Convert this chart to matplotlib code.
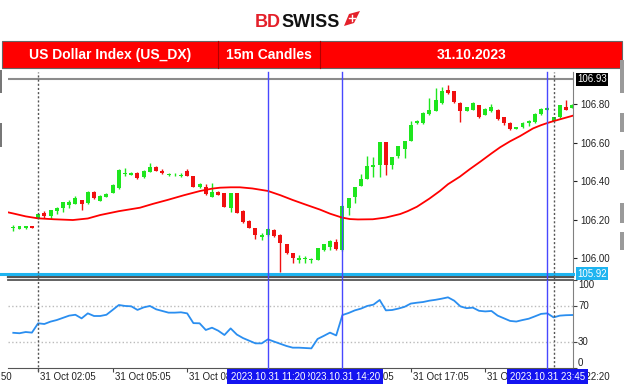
import matplotlib
matplotlib.use("Agg")
import matplotlib.pyplot as plt
import matplotlib.transforms as mtransforms
from matplotlib.patches import Rectangle, Polygon
import numpy as np

plt.rcParams['font.family'] = ['Liberation Sans', 'DejaVu Sans']

# === data (15m candles, US_DX, 31.10.2023) === #
opens = [106.159, 106.152, 106.157, 106.169, 106.208, 106.237, 106.220, 106.246, 106.263, 106.277,
         106.282, 106.303, 106.286, 106.346, 106.300, 106.320, 106.341, 106.364, 106.438, 106.434,
         106.445, 106.421, 106.450, 106.476, 106.453, 106.431, 106.431, 106.428, 106.455, 106.428,
         106.372, 106.369, 106.320, 106.346, 106.338, 106.263, 106.338, 106.246, 106.194, 106.156,
         106.112, 106.121, 106.147, 106.121, 106.074, 106.026, 105.991, 105.995, 105.991, 105.991,
         106.043, 106.060, 106.083, 106.043, 106.260, 106.320, 106.376, 106.412, 106.473, 106.485,
         106.603, 106.486, 106.530, 106.569, 106.611, 106.703, 106.703, 106.750, 106.767, 106.807,
         106.874, 106.868, 106.807, 106.767, 106.772, 106.795, 106.746, 106.764, 106.772, 106.732,
         106.703, 106.673, 106.681, 106.703, 106.706, 106.750, 106.772, 106.715, 106.732, 106.784,
         106.781]
highs = [106.173, 106.170, 106.169, 106.170, 106.232, 106.247, 106.253, 106.265, 106.293, 106.303,
         106.324, 106.305, 106.350, 106.349, 106.327, 106.340, 106.384, 106.462, 106.468, 106.448,
         106.450, 106.457, 106.493, 106.479, 106.462, 106.445, 106.442, 106.442, 106.462, 106.430,
         106.393, 106.384, 106.390, 106.349, 106.341, 106.341, 106.341, 106.249, 106.197, 106.158,
         106.130, 106.155, 106.150, 106.124, 106.077, 106.029, 106.017, 106.012, 106.003, 106.055,
         106.076, 106.094, 106.099, 106.275, 106.315, 106.372, 106.438, 106.531, 106.525, 106.606,
         106.606, 106.528, 106.585, 106.611, 106.715, 106.718, 106.758, 106.833, 106.885, 106.888,
         106.902, 106.871, 106.810, 106.787, 106.810, 106.798, 106.779, 106.802, 106.775, 106.735,
         106.706, 106.684, 106.706, 106.720, 106.753, 106.779, 106.784, 106.735, 106.798, 106.824,
         106.801]
lows = [106.143, 106.151, 106.150, 106.158, 106.204, 106.208, 106.206, 106.230, 106.242, 106.263,
        106.280, 106.251, 106.283, 106.309, 106.297, 106.318, 106.338, 106.360, 106.428, 106.432,
        106.413, 106.419, 106.448, 106.453, 106.440, 106.426, 106.426, 106.424, 106.426, 106.370,
        106.364, 106.330, 106.318, 106.327, 106.266, 106.242, 106.235, 106.184, 106.157, 106.100,
        106.095, 106.118, 106.113, 105.930, 106.021, 105.974, 105.974, 105.977, 105.977, 105.989,
        106.040, 106.043, 106.045, 106.040, 106.225, 106.286, 106.374, 106.410, 106.421, 106.424,
        106.434, 106.464, 106.521, 106.521, 106.608, 106.700, 106.700, 106.747, 106.764, 106.804,
        106.856, 106.807, 106.706, 106.764, 106.769, 106.729, 106.743, 106.761, 106.721, 106.694,
        106.669, 106.670, 106.679, 106.686, 106.704, 106.747, 106.770, 106.712, 106.729, 106.770,
        106.779]
closes = [106.163, 106.169, 106.168, 106.159, 106.230, 106.221, 106.251, 106.263, 106.291, 106.294,
          106.313, 106.282, 106.346, 106.312, 106.324, 106.334, 106.381, 106.459, 106.445, 106.442,
          106.416, 106.455, 106.476, 106.455, 106.442, 106.438, 106.434, 106.434, 106.428, 106.372,
          106.386, 106.332, 106.346, 106.329, 106.268, 106.338, 106.237, 106.187, 106.159, 106.121,
          106.121, 106.152, 106.116, 106.078, 106.029, 106.000, 106.003, 106.000, 105.995, 106.052,
          106.073, 106.091, 106.047, 106.272, 106.312, 106.369, 106.414, 106.481, 106.483, 106.603,
          106.483, 106.525, 106.582, 106.608, 106.691, 106.715, 106.755, 106.772, 106.822, 106.868,
          106.859, 106.810, 106.764, 106.784, 106.807, 106.732, 106.776, 106.784, 106.724, 106.703,
          106.672, 106.681, 106.703, 106.712, 106.750, 106.776, 106.781, 106.732, 106.795, 106.772,
          106.798]

# moving average (candle index, value)
ma_x = [-0.85, 0.0, 2.0, 3.9, 6.5, 9.6, 12.0, 14.0, 17.0, 20.4, 22.5, 24.8, 27.5, 30.1, 32.0,
        33.3, 35.0, 36.5, 38.5, 41.0, 43.0, 45.0, 47.0, 49.4, 51.0, 52.9, 54.2, 55.5, 57.9,
        60.0, 62.3, 63.5, 65.0, 67.0, 68.7, 70.0, 71.9, 73.5, 75.2, 77.0, 78.4, 80.0, 81.6,
        83.7, 85.0, 86.1, 87.0, 88.0, 89.0, 90.1]
ma_v = [106.239, 106.233, 106.218, 106.208, 106.203, 106.199, 106.207, 106.225, 106.245,
        106.263, 106.283, 106.303, 106.328, 106.350, 106.362, 106.367, 106.369, 106.369,
        106.363, 106.350, 106.328, 106.303, 106.280, 106.253, 106.232, 106.212, 106.204,
        106.202, 106.203, 106.212, 106.230, 106.245, 106.268, 106.310, 106.350, 106.385,
        106.424, 106.463, 106.502, 106.545, 106.577, 106.608, 106.635, 106.675, 106.692,
        106.704, 106.713, 106.722, 106.731, 106.741]

rsi = [40.0, 39.5, 40.9, 40.2, 50.8, 50.0, 52.7, 54.5, 57.0, 59.5,
       60.5, 56.4, 62.1, 59.1, 59.1, 60.5, 66.0, 71.6, 70.5, 70.1,
       66.0, 68.9, 70.5, 66.7, 64.8, 62.9, 62.9, 63.3, 62.1, 51.0,
       50.8, 43.2, 45.8, 42.4, 37.5, 45.0, 38.0, 34.0, 31.0, 28.0,
       28.0, 32.6, 30.0, 27.5, 25.0, 23.1, 23.1, 22.7, 22.3, 33.0,
       36.5, 40.2, 37.0, 60.2, 62.5, 65.5, 67.5, 70.5, 72.0, 77.3,
       65.5, 65.9, 67.5, 69.5, 73.2, 74.2, 75.0, 76.5, 77.5, 78.8,
       80.3, 76.5, 70.0, 68.0, 68.6, 65.0, 64.3, 64.8, 59.5, 56.5,
       53.5, 52.8, 54.5, 56.0, 58.7, 61.5, 62.1, 57.5, 59.5, 60.0,
       60.2]

price_ticks = [106.00, 106.20, 106.40, 106.60, 106.80]
day_high, day_low = 106.93, 105.92

tick_pos = [4, 16, 28, 40, 52, 64, 76, 88]
label_pos = [-9.6, 4, 16, 28, 40, 52, 64, 76, 86.8]
time_labels = ['30 Oct 23:50', '31 Oct 02:05', '31 Oct 05:05', '31 Oct 08:05', '31 Oct 11:05',
               '31 Oct 14:05', '31 Oct 17:05', '31 Oct 20:05', '31 Oct 22:20']
mark_pos = [53, 41, 86]
mark_labels = ['2023.10.31 14:20', '2023.10.31 11:20', '2023.10.31 23:45']
dotted_pos = [4, 87]

GREEN, RED = '#1EE61E', '#F01010'
BLUE = '#4848FF'
CYAN = '#1EB4F0'

fig = plt.figure(figsize=(6.24, 3.84), dpi=100)
W, H = 624.0, 384.0

def fax(x0, y0, x1, y1):
    # pixel box (top-left origin) -> figure axes rect
    return [x0 / W, 1 - y1 / H, (x1 - x0) / W, (y1 - y0) / H]

ax = fig.add_axes(fax(8, 72, 573, 277))
ax2 = fig.add_axes(fax(8, 280, 573, 368))
xlim = (-0.85, 90.13)

# === header === #
fig.text(281 / W, 1 - 27 / H, 'BD', color='#E4202A', fontsize=13, fontweight='bold',
         ha='right', va='baseline')
fig.text(281 / W, 1 - 27 / H, 'SWISS', color='#111111', fontsize=13, fontweight='bold',
         ha='left', va='baseline')
icon = [(344, 26), (349, 14), (360, 11), (354, 23)]
fig.patches.append(Polygon([(x / W, 1 - y / H) for x, y in icon], closed=True,
                           transform=fig.transFigure, fc='#E4202A', ec='none'))
fig.lines.append(plt.Line2D([349 / W, 355 / W], [1 - 18 / H, 1 - 18 / H],
                            transform=fig.transFigure, color='white', lw=1))
fig.lines.append(plt.Line2D([352 / W, 352 / W], [1 - 15 / H, 1 - 21 / H],
                            transform=fig.transFigure, color='white', lw=1))
fig.patches.append(Rectangle((2 / W, 1 - 68 / H), 620 / W, 27 / H, transform=fig.transFigure,
                             fc='#FF0000', ec='#666666', lw=0.8))
for xd in (218, 320):
    fig.lines.append(plt.Line2D([xd / W, xd / W], [1 - 68 / H, 1 - 41 / H],
                                transform=fig.transFigure, color='#B00000', lw=0.8))
for xc, s in [(110, 'US Dollar Index (US_DX)'), (269, '15m Candles'), (472, '31.10.2023')]:
    fig.text(xc / W, 1 - 55 / H, s, color='white', fontsize=10, fontweight='bold',
             ha='center', va='center')

# === candles === #
idx = np.arange(len(opens))
for i in idx:
    o, h, l, c = opens[i], highs[i], lows[i], closes[i]
    col = GREEN if c >= o else RED
    ax.vlines(i, l, h, color=col, lw=1, zorder=3)
    ax.bar(i, max(abs(c - o), 0.004), bottom=min(o, c), width=0.64, color=col,
           lw=0, zorder=4)

ax.plot(ma_x, ma_v, color='#FF0000', lw=1.3, zorder=5)

ax.axhline(day_high, color='#8C8C8C', lw=1.5, zorder=2)
trans = mtransforms.blended_transform_factory(ax.transAxes, ax.transData)
ax.plot([-8 / 565, 1.0], [day_low, day_low], color=CYAN, lw=2.2, transform=trans,
        clip_on=False, zorder=6)
ax.text(1.0 + 4 / 565, day_high, '%.2f' % day_high, transform=trans, color='white',
        fontsize=7, ha='left', va='center',
        bbox=dict(boxstyle='square,pad=0.15', fc='#000000', ec='none'))
ax.text(1.0 + 4 / 565, day_low, '%.2f' % day_low, transform=trans, color='white',
        fontsize=7, ha='left', va='center',
        bbox=dict(boxstyle='square,pad=0.15', fc=CYAN, ec='none'))

ax.set_xlim(*xlim)
ax.set_ylim(105.903, 106.968)
ax.yaxis.tick_right()
ax.set_yticks(price_ticks)
ax.set_yticklabels(['%.2f' % v for v in price_ticks])
ax.tick_params(axis='y', length=3, pad=2, labelsize=7, colors='#222222')
ax.set_xticks([])
for s in ('top', 'left'):
    ax.spines[s].set_visible(False)
ax.spines['right'].set_color('#808080')
ax.spines['bottom'].set_color('#555555')
ax.spines['bottom'].set_linewidth(1.6)

# === RSI panel === #
ax2.plot(idx, rsi, color='#2A8EF0', lw=1.3, zorder=4)
for lv in (30, 70):
    ax2.axhline(lv, color='#BBBBBB', ls=':', lw=1)
ax2.set_xlim(*xlim)
ax2.set_ylim(0, 100)
ax2.yaxis.tick_right()
ax2.set_yticks([0, 30, 70, 100])
ax2.set_yticklabels([])
ax2.tick_params(axis='y', length=3, colors='#444444')
trans2 = mtransforms.blended_transform_factory(ax2.transAxes, ax2.transData)
for v, va in [(100, 'top'), (70, 'center'), (30, 'center'), (0, 'bottom')]:
    ax2.text(1.0 + 5 / 565, v, str(v), transform=trans2, fontsize=7, color='#222222',
             ha='left', va=va)
ax2.spines['left'].set_visible(False)
ax2.spines['right'].set_color('#808080')
ax2.spines['top'].set_color('#555555')
ax2.spines['top'].set_linewidth(1.3)
ax2.spines['bottom'].set_color('#555555')
ax2.set_xticks(tick_pos)
ax2.set_xticklabels([])
ax2.tick_params(axis='x', length=3, colors='#444444')

transx = mtransforms.blended_transform_factory(ax2.transData, ax2.transAxes)
for p, s in zip(label_pos, time_labels):
    ax2.text(p + 0.3, -9 / 88, s, transform=transx, fontsize=7, color='#222222',
             ha='left', va='center', clip_on=False)

# vertical marker lines
for p in mark_pos:
    ax.axvline(p, color=BLUE, lw=1, zorder=7, ymin=-3 / 205, clip_on=False)
    ax2.axvline(p, color=BLUE, lw=1, zorder=7, ymin=-2 / 88, clip_on=False)
for p in dotted_pos:
    ax.axvline(p, color='#555555', lw=1, ls=(0, (1.5, 1.5)), zorder=7)
    ax2.axvline(p, color='#555555', lw=1, ls=(0, (1.5, 1.5)), zorder=7, ymin=-3 / 88,
                ymax=1.04, clip_on=False)
for p, s in zip(mark_pos, mark_labels):
    ax2.text(p, -9 / 88, s, transform=transx, fontsize=7, color='white', ha='center',
             va='center', zorder=10, clip_on=False,
             bbox=dict(boxstyle='square,pad=0.33', fc='#1414F0', ec='none'))

# screenshot edge bits
for y0, y1 in [(60, 93), (113, 132), (150, 170), (203, 223), (232, 250)]:
    fig.patches.append(Rectangle((620 / W, 1 - y1 / H), 4 / W, (y1 - y0) / H,
                                 transform=fig.transFigure, fc='#9A9A9A', ec='none'))
for y0, y1 in [(70, 93), (123, 147)]:
    fig.patches.append(Rectangle((0, 1 - y1 / H), 2 / W, (y1 - y0) / H,
                                 transform=fig.transFigure, fc='#777777', ec='none'))

fig.savefig('out.png', dpi=100)
